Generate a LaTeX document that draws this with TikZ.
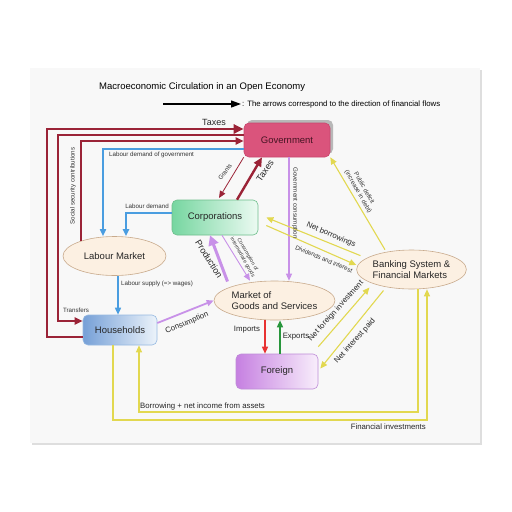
\documentclass[tikz,border=0pt]{standalone}
\usepackage{fontspec}
\setmainfont{Liberation Sans}
\usetikzlibrary{arrows.meta,shapes.geometric}
\definecolor{canvas}{RGB}{248,248,248}
\definecolor{dred}{RGB}{155,35,55}
\definecolor{govfill}{RGB}{218,84,124}
\definecolor{govdraw}{RGB}{200,70,110}
\definecolor{govtext}{RGB}{70,20,35}
\definecolor{blueline}{RGB}{74,157,224}
\definecolor{purp}{RGB}{200,145,232}
\definecolor{yell}{RGB}{226,216,80}
\definecolor{ellfill}{RGB}{252,240,226}
\definecolor{elldraw}{RGB}{200,170,140}
\definecolor{corpL}{RGB}{118,214,160}
\definecolor{corpR}{RGB}{236,250,242}
\definecolor{corpdraw}{RGB}{110,190,140}
\definecolor{hhL}{RGB}{118,160,215}
\definecolor{hhR}{RGB}{236,243,250}
\definecolor{hhdraw}{RGB}{150,185,225}
\definecolor{forL}{RGB}{198,128,225}
\definecolor{forR}{RGB}{248,238,251}
\definecolor{fordraw}{RGB}{190,140,215}
\definecolor{impred}{RGB}{232,50,50}
\definecolor{expgreen}{RGB}{40,150,60}
\begin{document}
\begin{tikzpicture}[x=1pt,y=-1pt,
  boxnode/.style={rounded corners=5pt, draw, line width=0.6pt, font=\fontsize{9.5}{11}\selectfont, inner sep=0pt, text=black!85},
  ellnode/.style={ellipse, draw=elldraw, fill=ellfill, line width=0.6pt, font=\fontsize{9.5}{11.5}\selectfont, inner sep=0pt, text=black!85},
  small/.style={font=\fontsize{6.2}{7}\selectfont, text=black!80, inner sep=0pt},
  tiny/.style={font=\fontsize{5.2}{5.8}\selectfont, text=black!80, inner sep=0pt, align=center},
  mid/.style={font=\fontsize{7.8}{9}\selectfont, text=black!85, inner sep=0pt},
  big/.style={font=\fontsize{9}{10}\selectfont, text=black!85, inner sep=0pt},
  tip/.style={-{Triangle[length=7pt,width=6pt]}},
  bigtip/.style={-{Triangle[length=10pt,width=9pt]}},
  yline/.style={yell, line width=1.1pt, tip}
]
\useasboundingbox (0,0) rectangle (512,512);
\fill[white] (0,0) rectangle (512,512);
\fill[black!13] (32,70) rectangle (482,445);
\fill[canvas] (30,68) rectangle (480,443);

% title and legend
\node[anchor=west, font=\fontsize{9.5}{11}\selectfont, inner sep=0pt] (title) at (99,87) {Macroeconomic Circulation in an Open Economy};
\coordinate (la) at (163,104);
\coordinate (lb) at (241,104);
\draw[black, line width=1.2pt, -{Triangle[length=10pt,width=7pt]}] (la) -- (lb);
\node[anchor=west, font=\fontsize{7.8}{9}\selectfont, inner sep=0pt] (legtxt) at (242,104) {: The arrows correspond to the direction of financial flows};

% nodes
\fill[black!28, rounded corners=5pt] (247,120) rectangle (333,154);
\node[boxnode, draw=govdraw, fill=govfill, minimum width=86pt, minimum height=34pt, text=govtext] (gov) at (287,140) {Government};
\node[boxnode, draw=corpdraw, left color=corpL, right color=corpR, minimum width=86pt, minimum height=35pt] (corp) at (215,217.5) {Corporations};
\node[boxnode, draw=hhdraw, left color=hhL, right color=hhR, minimum width=74pt, minimum height=30pt] (hh) at (120,330) {Households};
\node[boxnode, draw=fordraw, left color=forL, right color=forR, minimum width=82pt, minimum height=35pt] (for) at (277,371.5) {Foreign};
\node[ellnode, minimum width=103pt, minimum height=39pt] (lm) at (114.5,256) {Labour Market};
\node[ellnode, minimum width=101pt, minimum height=39pt, align=left] (mkt) at (274.5,300.5) {Market of\\Goods and Services};
\node[ellnode, minimum width=103pt, minimum height=39pt, align=left] (bank) at (411.5,269.5) {Banking System \&\\Financial Markets};

% dark red flows
\draw[dred, line width=2.6pt, bigtip] (hh.west |- 0,337) -- (47,337) -- (47,129) -- (gov.west |- 0,129);
\draw[dred, line width=1.8pt, -{Triangle[length=8pt,width=7pt]}] (gov.west |- 0,135) -- (58,135) -- (58,321) -- (hh.west |- 0,321);
\draw[dred, line width=1.8pt, -{Triangle[length=8pt,width=7pt]}] (lm.156) -- (lm.156 |- 0,141) -- (gov.west |- 0,141);
\draw[dred, line width=0.8pt, tip, shorten >=2pt] (gov.south west) -- (corp.north -| 218,0);
\draw[dred, line width=2.4pt, -{Triangle[length=9pt,width=8pt]}] (corp.north -| 237,0) -- (gov.south -| 262,0);

% blue flows
\draw[blueline, line width=1.6pt, tip] (gov.west |- 0,149) -- (103,149) -- (lm.north -| 103,0);
\draw[blueline, line width=1.8pt, tip] (corp.west |- 0,213) -- (126,213) -- (lm.north -| 126,0);
\draw[blueline, line width=1.5pt, tip] (lm.south -| 118,0) -- (hh.north -| 118,0);

% purple flows
\draw[purp, line width=1.8pt, tip] (hh.east |- 0,323) -- (mkt.west);
\draw[purp, line width=3pt, -{Triangle[length=10pt,width=10pt]}] ([shift={(-4,-5)}]mkt.north west) -- (corp.south -| 210,0);
\draw[purp, line width=0.9pt, tip] (corp.south -| 222,0) -- (mkt.north -| 250,0);
\draw[purp, line width=1.3pt, tip] (gov.south -| 289,0) -- (mkt.north -| 289,0);

% imports / exports
\draw[impred, line width=1.4pt, tip] (mkt.south -| 265,0) -- (for.north -| 265,0);
\draw[expgreen, line width=1.4pt, tip] (for.north -| 280,0) -- (mkt.south -| 280,0);

% yellow flows
\draw[yline] (bank.north -| 385,0) -- (gov.south east);
\draw[yline] ([shift={(-9,-1)}]bank.163) -- ([shift={(8,0)}]corp.east);
\draw[yline] ([shift={(8,8)}]corp.east) -- (bank.west |- 0,265);
\draw[yline] ([shift={(0,-7)}]for.north east) -- ([shift={(-3,4)}]bank.south west);
\draw[yline] ([shift={(11,7)}]bank.south west) -- ([shift={(2,-3)}]for.east);
\draw[yline] (hh.south -| 113,0) -- (113,420) -- (427,420) -- (bank.south -| 427,0);
\draw[yline] (bank.south -| 418,0) -- (418,412) -- (139,412) -- (hh.south -| 139,0);

% labels
\node[big] (ltaxes) at (214,122) {Taxes};
\node[small, rotate=90] (lssc) at (73,186) {Social security contributions};
\node[small, anchor=west] (llgov) at (109,155) {Labour demand of government};
\node[small] (lldem) at (147,206.5) {Labour demand};
\node[small, anchor=west] (llsup) at (121,284) {Labour supply (=> wages)};
\node[small] (ltrans) at (76,310) {Transfers};
\node[mid, rotate=23] (lcons) at (187,323) {Consumption};
\node[big, rotate=-58] (lprod) at (209,259) {Production};
\node[tiny, rotate=-60] (lcig) at (245,256) {Consumption of\\intermediate goods};
\node[small, rotate=55] (lgrants) at (225,172) {Grants};
\node[big, rotate=55] (ltaxes2) at (265,171) {Taxes};
\node[small, rotate=-90] (lgc) at (295,203) {Government consumption};
\node[small, rotate=-60, align=center] (lpd) at (361,190) {Public deficit\\(increase in debt)};
\node[mid, rotate=-23] (lnb) at (331,235) {Net borrowings};
\node[small, rotate=-23] (ldiv) at (324,259) {Dividends and interest};
\node[mid, rotate=48] (lnfi) at (336,311) {Net foreign investment};
\node[mid, rotate=48] (lnip) at (355,341) {Net interest paid};
\node[mid] (limp) at (247,330) {Imports};
\node[mid] (lexp) at (296,337) {Exports};
\node[mid, anchor=west] (lborr) at (140,406) {Borrowing + net income from assets};
\node[mid, anchor=east] (lfin) at (426,427) {Financial investments};
\end{tikzpicture}
\end{document}
